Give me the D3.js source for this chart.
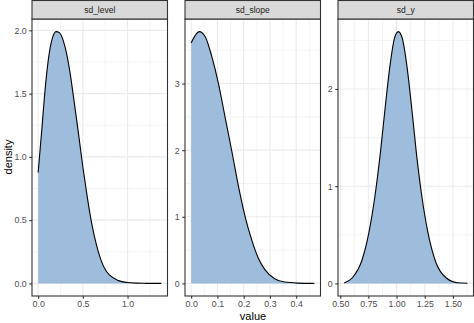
<!DOCTYPE html>
<html><head><meta charset="utf-8">
<script src="https://cdn.jsdelivr.net/npm/d3@7"></script>
<style>body{margin:0;background:#fff}svg{display:block}</style>
</head><body>
<svg id="c" width="474" height="323"></svg>
<script>
const panelNames = ["sd_level", "sd_slope", "sd_y"];

const sdLevelX = [0, 0.04, 0.08, 0.12, 0.16, 0.2, 0.24, 0.28, 0.32, 0.36, 0.4, 0.45, 0.5, 0.55, 0.6, 0.65, 0.7, 0.75, 0.8, 0.9, 1.0, 1.1, 1.2, 1.3, 1.378];
const sdLevelY = [0.876, 1.21, 1.55, 1.80, 1.94, 1.99, 1.98, 1.92, 1.81, 1.65, 1.45, 1.19, 0.92, 0.68, 0.47, 0.31, 0.19, 0.11, 0.065, 0.022, 0.007, 0.002, 0.0006, 0.0002, 0.0001];

const sdSlopeX = [0, 0.015, 0.031, 0.054, 0.079, 0.104, 0.129, 0.155, 0.18, 0.205, 0.23, 0.255, 0.28, 0.318, 0.356, 0.406, 0.469];
const sdSlopeY = [3.61, 3.72, 3.78, 3.70, 3.40, 3.0, 2.50, 1.98, 1.46, 1.01, 0.66, 0.385, 0.21, 0.07, 0.02, 0.005, 0.0005];

const sdYX = [0.535, 0.608, 0.695, 0.754, 0.812, 0.856, 0.90, 0.944, 0.981, 1.016, 1.051, 1.089, 1.133, 1.176, 1.22, 1.279, 1.351, 1.439, 1.541, 1.628];
const sdYY = [0.004, 0.058, 0.246, 0.52, 0.93, 1.34, 1.82, 2.26, 2.52, 2.59, 2.52, 2.26, 1.82, 1.34, 0.93, 0.52, 0.21, 0.058, 0.007, 0.001];

const xTicks = [[0, 0.5, 1.0], [0, 0.1, 0.2, 0.3, 0.4], [0.5, 0.75, 1.0, 1.25, 1.5]];
const xMinor = [[0.25, 0.75, 1.25], [0.05, 0.15, 0.25, 0.35, 0.45], [0.625, 0.875, 1.125, 1.375, 1.625]];
const yTicks = [[0, 0.5, 1.0, 1.5, 2.0], [0, 1, 2, 3], [0, 1, 2]];
const yMinor = [[0.25, 0.75, 1.25, 1.75], [0.5, 1.5, 2.5, 3.5], [0.5, 1.5, 2.5]];
const xFmt = [d3.format(".1f"), d3.format(".1f"), d3.format(".2f")];
const yFmt = [d3.format(".1f"), d3.format("d"), d3.format("d")];

const seriesX = [sdLevelX, sdSlopeX, sdYX];
const seriesY = [sdLevelY, sdSlopeY, sdYY];

const svg = d3.select("#c");
const font = "Liberation Sans, Arial, sans-serif";
const panelLeft = [32, 185, 338];
const panelW = 135.5;
const pTop = 19, pBottom = 296, stripTop = 0.5;

panelNames.forEach((name, i) => {
  const xs = seriesX[i], ys = seriesY[i];
  const data = xs.map((x, j) => ({x, y: ys[j]}));
  const xmin = d3.min(xs), xmax = d3.max(xs);
  const xe = (xmax - xmin) * 0.05;
  const ymax = d3.max(ys);
  const ye = ymax * 0.05;
  const x = d3.scaleLinear().domain([xmin - xe, xmax + xe]).range([panelLeft[i], panelLeft[i] + panelW]);
  const y = d3.scaleLinear().domain([-ye, ymax + ye]).range([pBottom, pTop]);
  const g = svg.append("g");

  g.append("rect").attr("x", panelLeft[i]).attr("y", pTop).attr("width", panelW).attr("height", pBottom - pTop).attr("fill", "#fff");

  g.selectAll(null).data(xMinor[i].filter(v => v <= x.domain()[1])).enter().append("line")
    .attr("x1", d => x(d)).attr("x2", d => x(d)).attr("y1", pTop).attr("y2", pBottom)
    .attr("stroke", "#ebebeb").attr("stroke-width", 0.55);
  g.selectAll(null).data(yMinor[i].filter(v => v <= y.domain()[1])).enter().append("line")
    .attr("y1", d => y(d)).attr("y2", d => y(d)).attr("x1", panelLeft[i]).attr("x2", panelLeft[i] + panelW)
    .attr("stroke", "#ebebeb").attr("stroke-width", 0.55);
  g.selectAll(null).data(xTicks[i]).enter().append("line")
    .attr("x1", d => x(d)).attr("x2", d => x(d)).attr("y1", pTop).attr("y2", pBottom)
    .attr("stroke", "#ebebeb").attr("stroke-width", 1.1);
  g.selectAll(null).data(yTicks[i]).enter().append("line")
    .attr("y1", d => y(d)).attr("y2", d => y(d)).attr("x1", panelLeft[i]).attr("x2", panelLeft[i] + panelW)
    .attr("stroke", "#ebebeb").attr("stroke-width", 1.1);

  const area = d3.area().x(d => x(d.x)).y0(y(0)).y1(d => y(d.y)).curve(d3.curveMonotoneX);
  const line = d3.line().x(d => x(d.x)).y(d => y(d.y)).curve(d3.curveMonotoneX);
  g.append("path").datum(data).attr("d", area).attr("fill", "#9ebcdb");
  g.append("path").datum(data).attr("d", line).attr("fill", "none").attr("stroke", "#000").attr("stroke-width", 1.1);

  g.append("rect").attr("x", panelLeft[i]).attr("y", pTop).attr("width", panelW).attr("height", pBottom - pTop)
    .attr("fill", "none").attr("stroke", "#333").attr("stroke-width", 1.1);

  g.append("rect").attr("x", panelLeft[i]).attr("y", stripTop).attr("width", panelW).attr("height", pTop - stripTop)
    .attr("fill", "#d9d9d9").attr("stroke", "#333").attr("stroke-width", 1.1);
  g.append("text").attr("x", panelLeft[i] + panelW / 2).attr("y", 12.8).attr("text-anchor", "middle")
    .attr("font-family", font).attr("font-size", 8.5).attr("fill", "#1a1a1a").text(name);

  const xa = d3.axisBottom(x).tickValues(xTicks[i]).tickFormat(xFmt[i]).tickSize(2.75).tickPadding(2.5);
  const ya = d3.axisLeft(y).tickValues(yTicks[i]).tickFormat(yFmt[i]).tickSize(2.75).tickPadding(2.5);
  const gx = g.append("g").attr("transform", `translate(0,${pBottom})`).call(xa);
  const gy = g.append("g").attr("transform", `translate(${panelLeft[i]},0)`).call(ya);
  [gx, gy].forEach(a => {
    a.select(".domain").remove();
    a.selectAll(".tick line").attr("stroke", "#333").attr("stroke-width", 1.1);
    a.selectAll(".tick text").attr("fill", "#4d4d4d").attr("font-family", font).attr("font-size", 8.8);
  });
});

svg.append("text").attr("x", 253).attr("y", 319.5).attr("text-anchor", "middle")
  .attr("font-family", font).attr("font-size", 11).attr("fill", "#000").text("value");
svg.append("text").attr("transform", "translate(12,157) rotate(-90)").attr("text-anchor", "middle")
  .attr("font-family", font).attr("font-size", 11).attr("fill", "#000").text("density");
</script>
</body></html>
